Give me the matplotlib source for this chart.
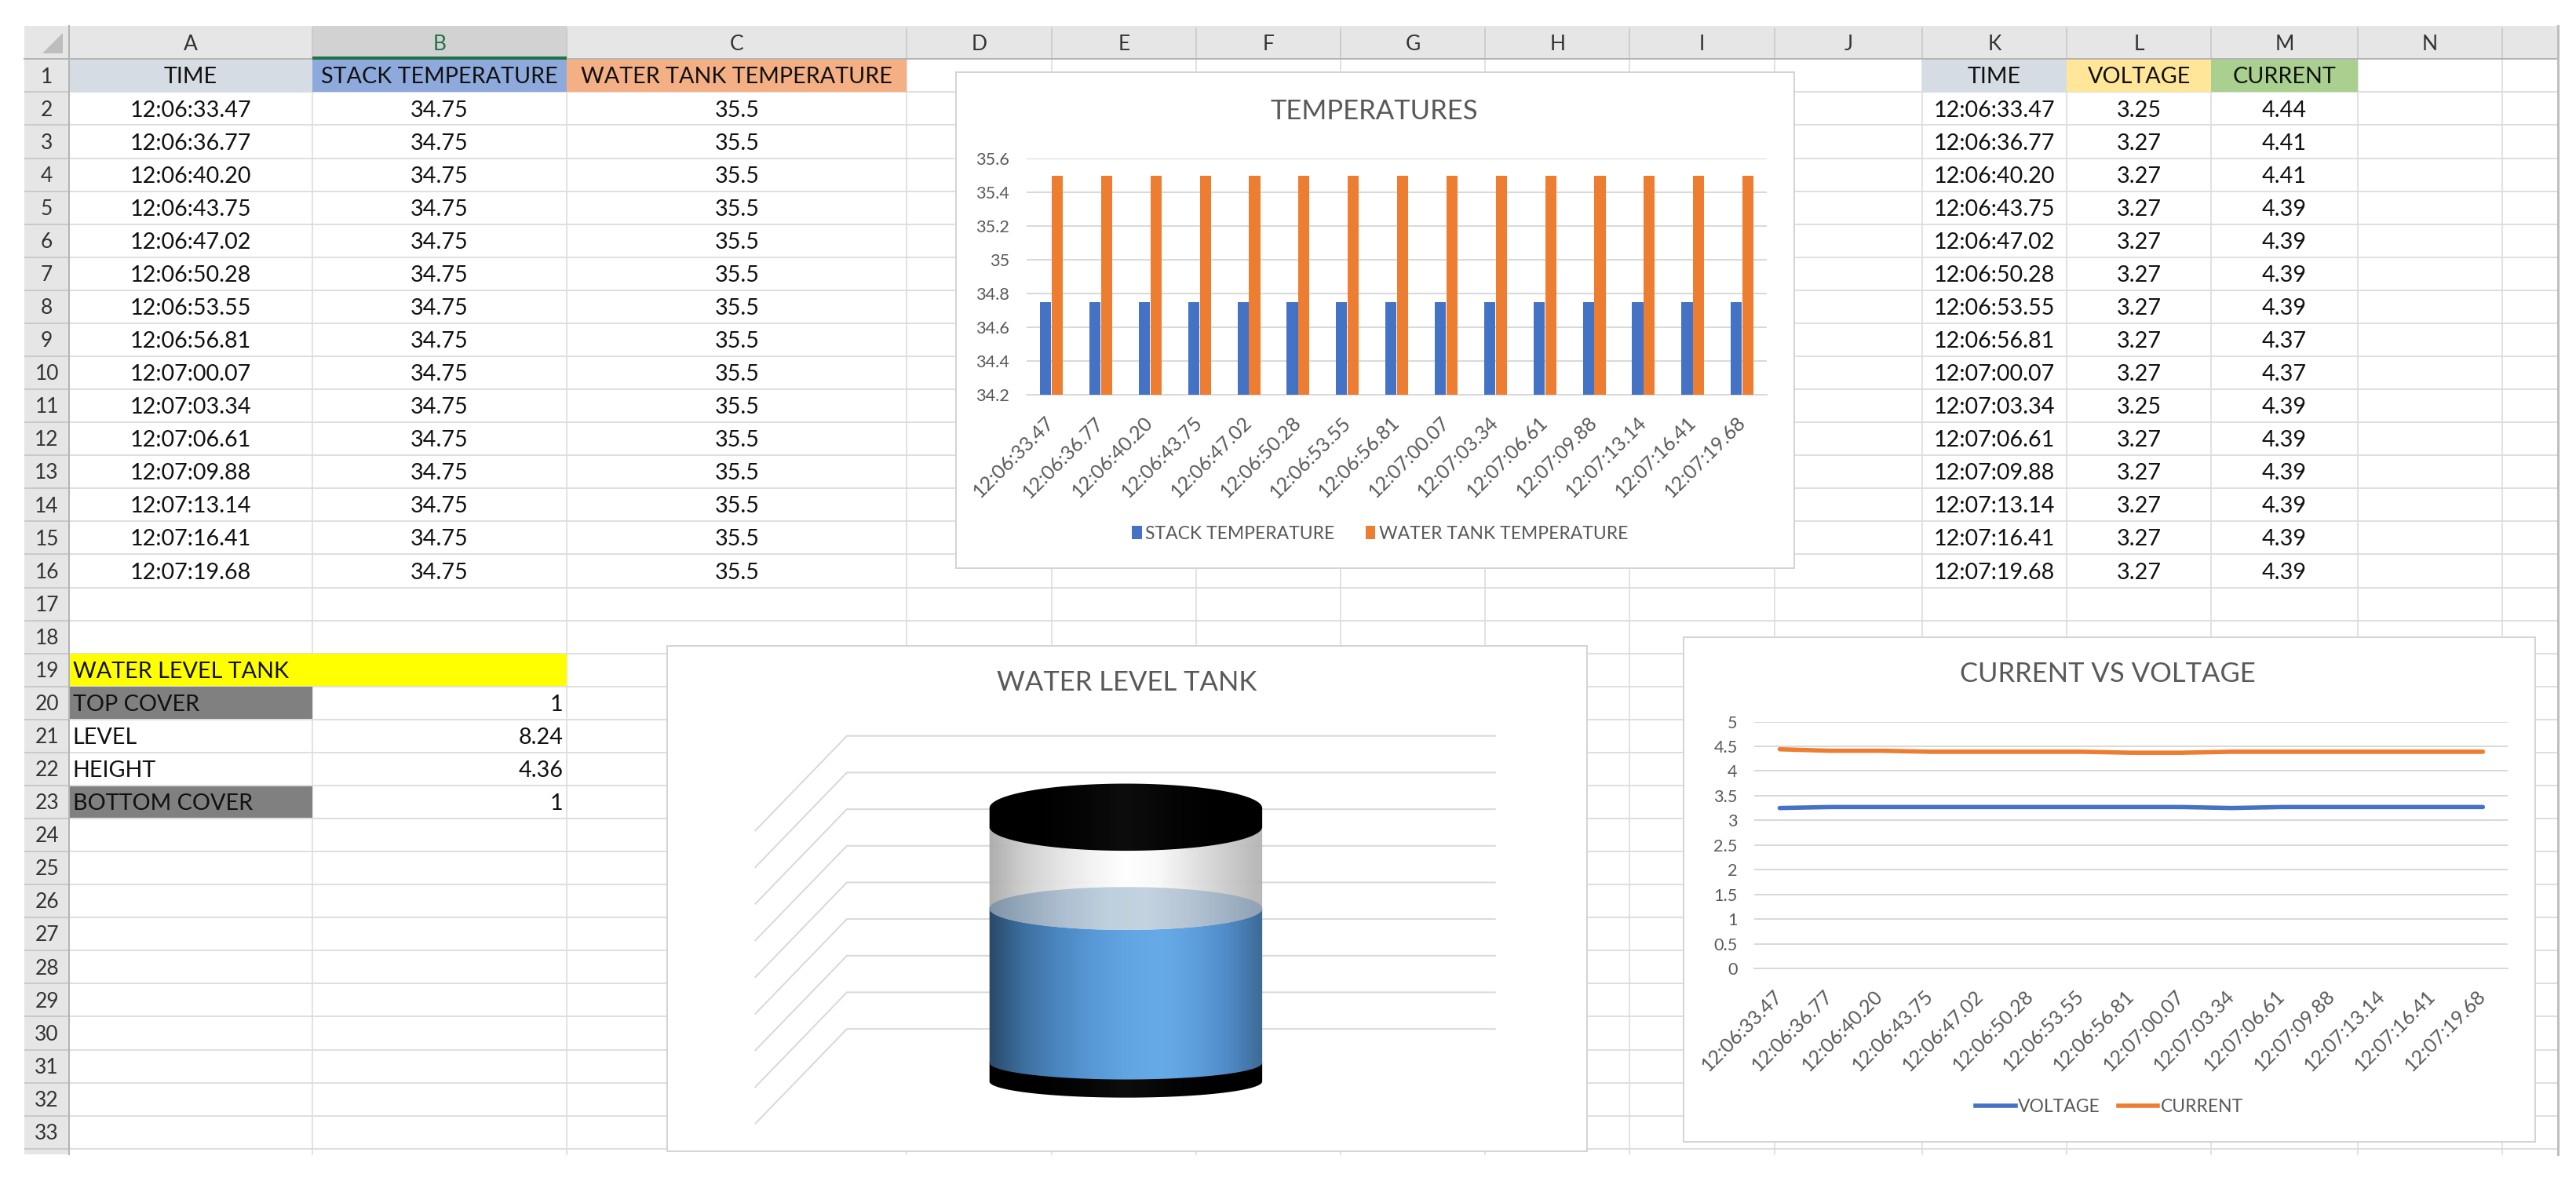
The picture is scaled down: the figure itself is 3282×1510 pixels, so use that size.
import numpy as np
import matplotlib
matplotlib.use("Agg")
import matplotlib.pyplot as plt
from matplotlib.patches import Rectangle, Polygon
from matplotlib.lines import Line2D
from matplotlib.colors import LinearSegmentedColormap
from matplotlib.textpath import TextPath
from matplotlib.font_manager import FontProperties, fontManager

# ---------------- data ----------------
times = ['12:06:33.47', '12:06:36.77', '12:06:40.20', '12:06:43.75', '12:06:47.02',
         '12:06:50.28', '12:06:53.55', '12:06:56.81', '12:07:00.07', '12:07:03.34',
         '12:07:06.61', '12:07:09.88', '12:07:13.14', '12:07:16.41', '12:07:19.68']
stack_temp = [34.75, 34.75, 34.75, 34.75, 34.75, 34.75, 34.75, 34.75,
              34.75, 34.75, 34.75, 34.75, 34.75, 34.75, 34.75]
water_temp = [35.5, 35.5, 35.5, 35.5, 35.5, 35.5, 35.5, 35.5,
              35.5, 35.5, 35.5, 35.5, 35.5, 35.5, 35.5]
voltage = [3.25, 3.27, 3.27, 3.27, 3.27, 3.27, 3.27, 3.27,
           3.27, 3.25, 3.27, 3.27, 3.27, 3.27, 3.27]
current = [4.44, 4.41, 4.41, 4.39, 4.39, 4.39, 4.39, 4.37,
           4.37, 4.39, 4.39, 4.39, 4.39, 4.39, 4.39]
temp_headers = ['TIME', 'STACK TEMPERATURE', 'WATER TANK TEMPERATURE']
elec_headers = ['TIME', 'VOLTAGE', 'CURRENT']
level_title = 'WATER LEVEL TANK'
level_labels = ['TOP COVER', 'LEVEL', 'HEIGHT', 'BOTTOM COVER']
level_values = [1, 8.24, 4.36, 1]
col_letters = ['A', 'B', 'C', 'D', 'E', 'F', 'G', 'H', 'I', 'J', 'K', 'L', 'M', 'N', '']
temp_yticks = [34.2, 34.4, 34.6, 34.8, 35.0, 35.2, 35.4, 35.6]
elec_yticks = [0, 0.5, 1, 1.5, 2, 2.5, 3, 3.5, 4, 4.5, 5]
tank_ticks = [0, 2, 4, 6, 8, 10, 12, 14, 16]

# ---------------- fonts ----------------
names = {f.name for f in fontManager.ttflist}
MAIN = 'DejaVu Sans'
for cand in ['Lato', 'Roboto', 'Liberation Sans Narrow', 'Liberation Sans']:
    if cand in names:
        MAIN = cand
        break
plt.rcParams['font.family'] = [MAIN, 'DejaVu Sans']
FP = FontProperties(family=MAIN)

W, H = 1568.0, 721.4          # layout frame (reference, scaled)
PX = 3282.0 / W               # output px per frame unit


def fit(s, width):
    w = TextPath((0, 0), s, size=100, prop=FP).get_extents().width
    return 100.0 * width * PX * 0.72 / w


F_CELL = min(fit('12:06:33.47', 77.0), fit('STACK TEMPERATURE', 143.0),
             fit('WATER TANK TEMPERATURE', 192.0))
F_TITLE = np.mean([fit('TEMPERATURES', 127), fit('WATER LEVEL TANK', 156),
                   fit('CURRENT VS VOLTAGE', 179)])
F_SMALL = np.mean([fit('STACK TEMPERATURE', 113), fit('WATER TANK TEMPERATURE', 152)])
F_TICK = fit('12:06:33.47', 63.0)
F_YTICK = fit('35.6', 19.5)
F_HDR = F_CELL * 0.92

TXT = '#595959'
GRID = '#D9D9D9'
BLUE = '#4472C4'
ORANGE = '#ED7D31'


def lw(px):
    return px * 0.72


fig = plt.figure(figsize=(32.82, 15.10), dpi=100)
fig.patch.set_facecolor('white')
bg = fig.add_axes([0, 0, 1, 1])
bg.set_xlim(0, W)
bg.set_ylim(H, 0)
bg.axis('off')


def frac(x0, y0, x1, y1):
    return [x0 / W, 1 - y1 / H, (x1 - x0) / W, (y1 - y0) / H]


# ---------------- sheet grid ----------------
col_edges = [15, 42, 190, 345, 552, 640, 728, 816, 904, 992, 1080, 1170, 1258, 1346, 1435, 1523, 1557]
HDR_TOP, ROW0, RH = 16.0, 36.0, 20.1
GRID_BOTTOM = 703.0
N_ROWS = 33
RIGHT = col_edges[-1]

bg.add_patch(Rectangle((15, HDR_TOP), RIGHT - 15, ROW0 - HDR_TOP, fc='#E6E6E6', ec='none', zorder=1))
bg.add_patch(Rectangle((15, ROW0), 42 - 15, GRID_BOTTOM - ROW0, fc='#E6E6E6', ec='none', zorder=1))
# selected column B
bg.add_patch(Rectangle((col_edges[2], HDR_TOP), col_edges[3] - col_edges[2], ROW0 - HDR_TOP,
                       fc='#D2D2D2', ec='none', zorder=1.1))
# corner triangle
bg.add_patch(Polygon([[38.4, 20], [38.4, 32.6], [25.6, 32.6]], closed=True, fc='#BDBDBD', ec='none', zorder=1.2))

for k in range(N_ROWS + 1):
    y = ROW0 + k * RH
    bg.plot([42, RIGHT], [y, y], color='#DCDCDC', lw=lw(1.8), zorder=2, solid_capstyle='butt')
    bg.plot([15, 42], [y, y], color='#C6C6C6', lw=lw(1.8), zorder=2, solid_capstyle='butt')
for x in col_edges[2:-1]:
    bg.plot([x, x], [ROW0, GRID_BOTTOM], color='#DCDCDC', lw=lw(1.6), zorder=2)
for x in col_edges[1:-1]:
    bg.plot([x, x], [HDR_TOP + 1, ROW0], color='#C8C8C8', lw=lw(1.6), zorder=2)
bg.plot([15, RIGHT], [ROW0, ROW0], color='#B4B4B4', lw=lw(2), zorder=2.5)
bg.plot([42, 42], [HDR_TOP, GRID_BOTTOM], color='#B4B4B4', lw=lw(2), zorder=2.5)
bg.plot([RIGHT, RIGHT], [HDR_TOP, GRID_BOTTOM], color='#BEBEBE', lw=lw(3), zorder=2.5)
bg.plot([col_edges[2], col_edges[3]], [ROW0 - 0.6, ROW0 - 0.6], color='#217346', lw=lw(4), zorder=2.6,
        solid_capstyle='butt')

# header letters & row numbers
for i, let in enumerate(col_letters):
    cx = (col_edges[i + 1] + col_edges[i + 2]) / 2
    bg.text(cx, (HDR_TOP + ROW0) / 2 + 0.8, let, ha='center', va='center', fontsize=F_HDR,
            color='#217346' if let == 'B' else '#333333', zorder=3)
for r in range(1, N_ROWS + 1):
    bg.text(28.5, ROW0 + (r - 0.5) * RH + 0.8, str(r), ha='center', va='center', fontsize=F_HDR,
            color='#333333', zorder=3)


def cell_box(c, r, span=1):
    x0 = col_edges[c + 1]
    x1 = col_edges[c + 1 + span]
    y0 = ROW0 + (r - 1) * RH
    return x0, y0, x1, y0 + RH


def fill(c, r, color, span=1):
    x0, y0, x1, y1 = cell_box(c, r, span)
    bg.add_patch(Rectangle((x0, y0 + 0.3), x1 - x0, y1 - y0 - 0.6, fc=color, ec='none', zorder=2.4))


def put(c, r, s, align='center'):
    x0, y0, x1, y1 = cell_box(c, r)
    if align == 'center':
        x, ha = (x0 + x1) / 2, 'center'
    elif align == 'left':
        x, ha = x0 + 2.2, 'left'
    else:
        x, ha = x1 - 2.2, 'right'
    bg.text(x, (y0 + y1) / 2 + 1.0, s, ha=ha, va='center', fontsize=F_CELL, color='#111111', zorder=3)


# header fills
for c, colr in zip([0, 1, 2], ['#D6DCE4', '#8EA9DB', '#F4B084']):
    fill(c, 1, colr)
for c, colr in zip([10, 11, 12], ['#D6DCE4', '#FFE699', '#A9D08E']):
    fill(c, 1, colr)
fill(0, 19, '#FFFF00', span=2)
fill(0, 20, '#808080')
fill(0, 23, '#808080')

for c, h in zip([0, 1, 2], temp_headers):
    put(c, 1, h)
for c, h in zip([10, 11, 12], elec_headers):
    put(c, 1, h)
for i in range(len(times)):
    r = i + 2
    put(0, r, times[i])
    put(1, r, f'{stack_temp[i]:g}')
    put(2, r, f'{water_temp[i]:g}')
    put(10, r, times[i])
    put(11, r, f'{voltage[i]:g}')
    put(12, r, f'{current[i]:g}')
put(0, 19, level_title, 'left')
for k, (lab, val) in enumerate(zip(level_labels, level_values)):
    put(0, 20 + k, lab, 'left')
    put(1, 20 + k, f'{val:g}', 'right')


# ---------------- chart frames ----------------
def frame(x0, y0, x1, y1):
    bg.add_patch(Rectangle((x0, y0), x1 - x0, y1 - y0, fc='white', ec='#D4D4D4', lw=lw(2), zorder=5))


frame(582, 44, 1092, 346)
frame(406, 393, 966, 701)
frame(1025, 388, 1543, 695)


def style_axes(ax):
    ax.set_facecolor('none')
    for s in ['top', 'right', 'left']:
        ax.spines[s].set_visible(False)
    ax.spines['bottom'].set_color(GRID)
    ax.spines['bottom'].set_linewidth(lw(2))
    ax.grid(axis='y', color=GRID, lw=lw(2))
    ax.set_axisbelow(True)
    ax.tick_params(axis='both', length=0, colors=TXT)
    ax.tick_params(axis='y', pad=F_SMALL * 0.95, labelsize=F_YTICK)
    ax.tick_params(axis='x', pad=F_TICK * 1.25, labelsize=F_TICK)


x = np.arange(len(times))

# ---------------- TEMPERATURES (clustered columns) ----------------
axT = fig.add_axes(frac(625, 96.7, 1075.5, 240.4))
style_axes(axT)
bw = 0.225
axT.bar(x - 0.118, stack_temp, width=bw, color=BLUE, zorder=3)
axT.bar(x + 0.118, water_temp, width=bw, color=ORANGE, zorder=3)
axT.set_ylim(temp_yticks[0], temp_yticks[-1])
axT.set_yticks(temp_yticks)
axT.set_yticklabels([f'{v:g}' for v in temp_yticks])
axT.set_xlim(-0.5, len(times) - 0.5)
axT.set_xticks(x)
axT.set_xticklabels(times, rotation=45, ha='right', va='center', rotation_mode='anchor')
fig.text(836.6 / W, 1 - 67.8 / H, 'TEMPERATURES', ha='center', va='center', fontsize=F_TITLE, color=TXT)
hT = [Rectangle((0, 0), 1, 1, fc=BLUE, ec='none'), Rectangle((0, 0), 1, 1, fc=ORANGE, ec='none')]
axT.legend(hT, [temp_headers[1], temp_headers[2]], loc='center', bbox_to_anchor=(840 / W, 1 - 325 / H),
           bbox_transform=fig.transFigure, ncol=2, frameon=False, fontsize=F_SMALL,
           handlelength=0.55, handleheight=0.75, handletextpad=0.2, columnspacing=1.7, labelcolor=TXT,
           borderpad=0)

# ---------------- CURRENT VS VOLTAGE (lines) ----------------
LW_LINE = 4.0
axL = fig.add_axes(frac(1068, 439.3, 1526.6, 589.6))
style_axes(axL)
axL.plot(x, voltage, color=BLUE, lw=LW_LINE, solid_capstyle='round', solid_joinstyle='round', zorder=3)
axL.plot(x, current, color=ORANGE, lw=LW_LINE, solid_capstyle='round', solid_joinstyle='round', zorder=3)
axL.set_ylim(elec_yticks[0], elec_yticks[-1])
axL.set_yticks(elec_yticks)
axL.set_yticklabels([f'{v:g}' for v in elec_yticks])
axL.set_xlim(-0.5, len(times) - 0.5)
axL.set_xticks(x)
axL.set_xticklabels(times, rotation=45, ha='right', va='center', rotation_mode='anchor')
fig.text(1283 / W, 1 - 410.4 / H, 'CURRENT VS VOLTAGE', ha='center', va='center', fontsize=F_TITLE, color=TXT)
hL = [Line2D([0], [0], color=BLUE, lw=LW_LINE), Line2D([0], [0], color=ORANGE, lw=LW_LINE)]
axL.legend(hL, [elec_headers[1], elec_headers[2]], loc='center', bbox_to_anchor=(1284 / W, 1 - 674 / H),
           bbox_transform=fig.transFigure, ncol=2, frameon=False, fontsize=F_SMALL,
           handlelength=2.2, handletextpad=0.15, columnspacing=1.0, labelcolor=TXT, borderpad=0)

# ---------------- WATER LEVEL TANK (3D stacked cylinder) ----------------
BX0, BY0, BX1, BY1 = 406, 393, 966, 701
VALUE0, UNIT = 658.4, 11.4          # frame y of value 0 (front), frame px per unit
axW = fig.add_axes(frac(BX0, BY0, BX1, BY1))
axW.set_facecolor('none')
axW.axis('off')


def wall_y(v):
    return (VALUE0 - (626.4 - 11.15 * v)) / UNIT


for v in tank_ticks:
    yb = wall_y(v)
    axW.plot([910.0, 515.5, 459.8], [yb, yb, yb - 57.6 / UNIT], color=GRID, lw=lw(2), zorder=1,
             solid_joinstyle='miter')

CX, A = 685.3, 83.0


def bhalf(v):
    return (9.8 + 0.35 * v) / UNIT


def seg_verts(v0, v1):
    t1 = np.linspace(np.pi, 2 * np.pi, 80)
    t2 = np.linspace(0, np.pi, 80)
    lower = np.column_stack([CX + A * np.cos(t1), v0 + bhalf(v0) * np.sin(t1)])
    upper = np.column_stack([CX + A * np.cos(t2), v1 + bhalf(v1) * np.sin(t2)])
    return np.vstack([lower, upper])


def ell_verts(v):
    t = np.linspace(0, 2 * np.pi, 160)
    return np.column_stack([CX + A * np.cos(t), v + bhalf(v) * np.sin(t)])


def grad_fill(verts, stops, z, alpha=1.0):
    poly = Polygon(verts, closed=True, fc='none', ec='none', transform=axW.transData)
    axW.add_patch(poly)
    cmap = LinearSegmentedColormap.from_list('g', stops)
    ys = verts[:, 1]
    im = axW.imshow(np.linspace(0, 1, 256).reshape(1, -1), cmap=cmap, aspect='auto',
                    extent=(CX - A - 1, CX + A + 1, ys.min() - 0.2, ys.max() + 0.2),
                    zorder=z, alpha=alpha, interpolation='bilinear')
    im.set_clip_path(poly)


BLACK_STOPS = ['#000000', '#000000', '#050505', '#0d0d0d', '#050505', '#000000', '#000000']
BLUE_STOPS = ['#2a4868', '#3c6f9f', '#4b86c0', '#5799d6', '#61a5e2', '#66abe8', '#5d9fdc',
              '#4f8ac6', '#3c6893']
WHITE_STOPS = ['#a9a9a9', '#cccccc', '#e2e2e2', '#f3f3f3', '#ffffff', '#f8f8f8', '#e0e0e0',
               '#c9c9c9', '#b2b2b2']
TOP_STOPS = ['#7d92a7', '#97abbf', '#adc0d1', '#bccddc', '#c1d1df', '#b4c5d5', '#a0b3c5', '#8da1b5']

stack_order = [level_values[3], level_values[1], level_values[2], level_values[0]]  # bottom -> top
bounds = np.concatenate([[0], np.cumsum(stack_order)])
grad_fill(seg_verts(bounds[0], bounds[1]), BLACK_STOPS, 3)
grad_fill(seg_verts(bounds[1], bounds[2]), BLUE_STOPS, 4)
grad_fill(seg_verts(bounds[2], bounds[3]), WHITE_STOPS, 5, alpha=0.95)
grad_fill(ell_verts(bounds[2]), TOP_STOPS, 6, alpha=0.95)
grad_fill(seg_verts(bounds[3], bounds[4]), BLACK_STOPS, 7)

axW.set_xlim(BX0, BX1)
axW.set_ylim((VALUE0 - BY1) / UNIT, (VALUE0 - BY0) / UNIT)
fig.text(685.7 / W, 1 - 415.8 / H, level_title, ha='center', va='center', fontsize=F_TITLE, color=TXT)

fig.savefig('out.png', dpi=100, facecolor='white')
